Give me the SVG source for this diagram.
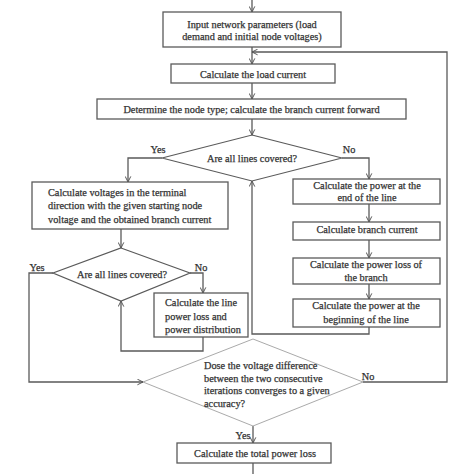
<svg xmlns="http://www.w3.org/2000/svg" width="474" height="474" viewBox="0 0 474 474">
<defs>
<marker id="ah" viewBox="0 0 10 10" refX="9" refY="5" markerWidth="7" markerHeight="7" markerUnits="userSpaceOnUse" orient="auto">
<path d="M1,1 L9,5 L1,9" fill="none" stroke="#555" stroke-width="1.4"/>
</marker>
</defs>
<style>
.b{fill:#fff;stroke:#5a5a5a;stroke-width:1.3}
.d{fill:#fff;stroke:#5a5a5a;stroke-width:1.2}
.dl{fill:#fff;stroke:#aaa;stroke-width:1}
.c{fill:none;stroke:#5a5a5a;stroke-width:1.3}
text{font-family:"Liberation Serif","Times New Roman",serif;font-size:10.3px;fill:#333;stroke:#333;stroke-width:0.25}
.m{text-anchor:middle}
</style>
<rect width="474" height="474" fill="#fff"/>
<g id="connectors">
<path class="c" d="M252,0 V12" marker-end="url(#ah)"/>
<path class="c" d="M252,47 V64" marker-end="url(#ah)"/>
<path class="c" d="M252,83 V99" marker-end="url(#ah)"/>
<path class="c" d="M252,119 V135" marker-end="url(#ah)"/>
<path class="c" d="M162,158 H128 V182" marker-end="url(#ah)"/>
<path class="c" d="M342,158 H369 V179" marker-end="url(#ah)"/>
<path class="c" d="M369,204 V222" marker-end="url(#ah)"/>
<path class="c" d="M369,240 V258" marker-end="url(#ah)"/>
<path class="c" d="M369,284 V299" marker-end="url(#ah)"/>
<path class="c" d="M369,327 V334 H252 V181" marker-end="url(#ah)"/>
<path class="c" d="M121,229 V248" marker-end="url(#ah)"/>
<path class="c" d="M190,273 H203 V293" marker-end="url(#ah)"/>
<path class="c" d="M203,337 V351 H121 V301" marker-end="url(#ah)"/>
<path class="c" d="M53,273 H29 V382 H143" marker-end="url(#ah)"/>
<path class="c" d="M363,382 H447 V52 H252" marker-end="url(#ah)"/>
<path class="c" d="M253,426 V443" marker-end="url(#ah)"/>
<path class="c" d="M253,463 V474"/>
<text class="m" x="158" y="153">Yes</text>
<text class="m" x="349" y="153">No</text>
<text class="m" x="37" y="271">Yes</text>
<text class="m" x="201" y="271">No</text>
<text class="m" x="368" y="380">No</text>
<text class="m" x="243" y="439">Yes</text>
</g>
<g id="input">
<rect class="b" x="163" y="12" width="178" height="35"/>
<text class="m" x="252" y="27.5">Input network parameters (load</text>
<text class="m" x="252" y="39.5">demand and initial node voltages)</text>
</g>
<g id="loadcurrent">
<rect class="b" x="171" y="64" width="164" height="19"/>
<text class="m" x="253" y="77.5">Calculate the load current</text>
</g>
<g id="nodetype">
<rect class="b" x="97" y="99" width="309" height="20"/>
<text class="m" x="251.5" y="113">Determine the node type; calculate the branch current forward</text>
</g>
<g id="decision1">
<polygon class="d" points="252,135 342,158 252,181 162,158"/>
<text class="m" x="252" y="161.5">Are all lines covered?</text>
</g>
<g id="voltages">
<rect class="b" x="32" y="182" width="196" height="47"/>
<text x="48" y="195.5">Calculate voltages in the terminal</text>
<text x="48" y="209">direction with the given starting node</text>
<text x="48" y="222.5">voltage and the obtained branch current</text>
</g>
<g id="powerend">
<rect class="b" x="293" y="179" width="147" height="25"/>
<text class="m" x="367" y="188.5">Calculate the power at the</text>
<text class="m" x="367" y="201">end of the line</text>
</g>
<g id="branchcurrent">
<rect class="b" x="293" y="222" width="147" height="18"/>
<text class="m" x="367" y="233">Calculate branch current</text>
</g>
<g id="powerloss">
<rect class="b" x="293" y="258" width="147" height="26"/>
<text class="m" x="366" y="267.5">Calculate the power loss of</text>
<text class="m" x="366" y="280.5">the branch</text>
</g>
<g id="powerbegin">
<rect class="b" x="293" y="299" width="147" height="28"/>
<text class="m" x="366" y="309">Calculate the power at the</text>
<text class="m" x="366" y="322.5">beginning of the line</text>
</g>
<g id="decision2">
<polygon class="d" points="121,248 190,273 121,301 53,273"/>
<text class="m" x="122" y="278">Are all lines covered?</text>
</g>
<g id="lineloss">
<rect class="b" x="154" y="293" width="94" height="44"/>
<text x="165" y="306">Calculate the line</text>
<text x="165" y="319.5">power loss and</text>
<text x="165" y="333">power distribution</text>
</g>
<g id="decision3">
<polygon class="dl" points="253,339 363,382 253,426 143,382"/>
<text x="204" y="369">Dose the voltage difference</text>
<text x="204" y="381.5">between the two consecutive</text>
<text x="204" y="394">iterations converges to a given</text>
<text x="204" y="406.5">accuracy?</text>
</g>
<g id="totalloss">
<rect class="b" x="177" y="443" width="154" height="20"/>
<text class="m" x="255" y="457">Calculate the total power loss</text>
</g>
</svg>
